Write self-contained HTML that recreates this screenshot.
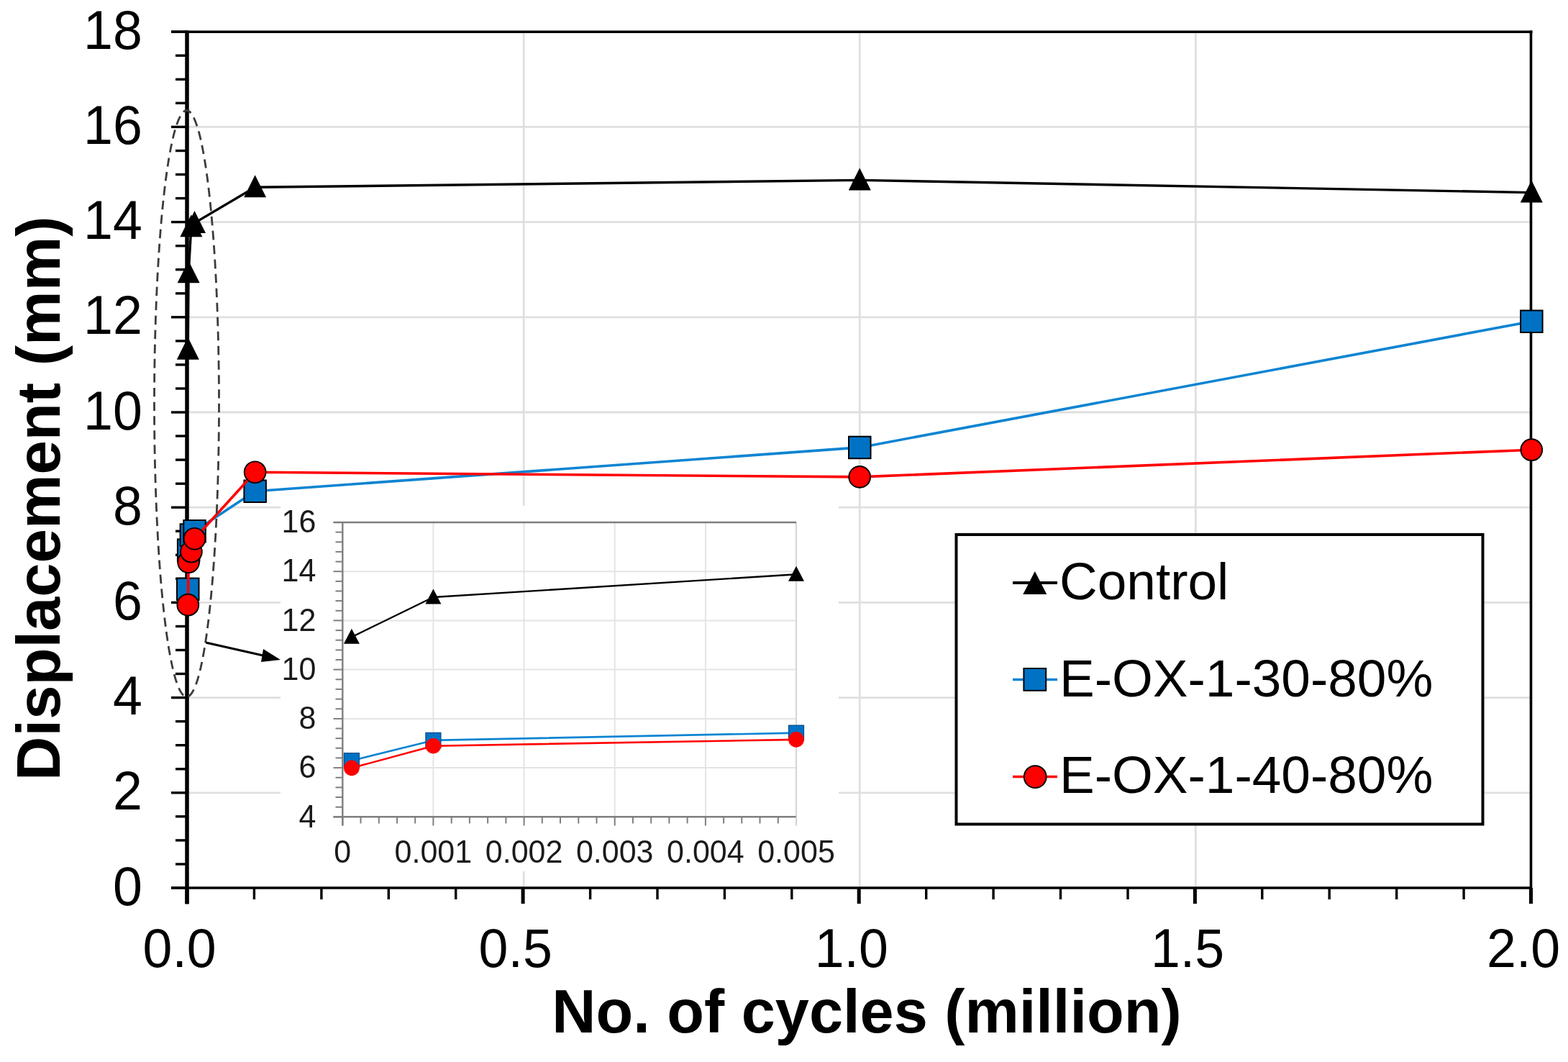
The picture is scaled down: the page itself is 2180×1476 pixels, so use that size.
<!DOCTYPE html>
<html><head><meta charset="utf-8"><title>Displacement vs cycles</title>
<style>html,body{margin:0;padding:0;background:#fff;}body{width:2180px;height:1476px;overflow:hidden;}svg{display:block;}</style>
</head><body>
<svg width="2180" height="1476" viewBox="0 0 2180 1476">
<rect width="2180" height="1476" fill="#ffffff"/>
<line x1="260.0" y1="1101.8" x2="2128.5" y2="1101.8" stroke="#dfdfdf" stroke-width="2.8"/>
<line x1="260.0" y1="969.6" x2="2128.5" y2="969.6" stroke="#dfdfdf" stroke-width="2.8"/>
<line x1="260.0" y1="837.4" x2="2128.5" y2="837.4" stroke="#dfdfdf" stroke-width="2.8"/>
<line x1="260.0" y1="705.2" x2="2128.5" y2="705.2" stroke="#dfdfdf" stroke-width="2.8"/>
<line x1="260.0" y1="573.0" x2="2128.5" y2="573.0" stroke="#dfdfdf" stroke-width="2.8"/>
<line x1="260.0" y1="440.8" x2="2128.5" y2="440.8" stroke="#dfdfdf" stroke-width="2.8"/>
<line x1="260.0" y1="308.6" x2="2128.5" y2="308.6" stroke="#dfdfdf" stroke-width="2.8"/>
<line x1="260.0" y1="176.4" x2="2128.5" y2="176.4" stroke="#dfdfdf" stroke-width="2.8"/>
<line x1="728.2" y1="44.2" x2="728.2" y2="1234.0" stroke="#dfdfdf" stroke-width="2.8"/>
<line x1="1195.2" y1="44.2" x2="1195.2" y2="1234.0" stroke="#dfdfdf" stroke-width="2.8"/>
<line x1="1662.3" y1="44.2" x2="1662.3" y2="1234.0" stroke="#dfdfdf" stroke-width="2.8"/>
<line x1="238" y1="44.2" x2="2130.5" y2="44.2" stroke="#000000" stroke-width="3.6"/>
<line x1="2128.5" y1="42.4" x2="2128.5" y2="1256" stroke="#000000" stroke-width="3.6"/>
<line x1="238" y1="1234.0" x2="2128.5" y2="1234.0" stroke="#000000" stroke-width="3.6"/>
<line x1="260.0" y1="42.4" x2="260.0" y2="1256.5" stroke="#000000" stroke-width="5.5"/>
<line x1="238" y1="1234.0" x2="260.0" y2="1234.0" stroke="#000000" stroke-width="3.4"/>
<line x1="244" y1="1201.0" x2="260.0" y2="1201.0" stroke="#000000" stroke-width="3.4"/>
<line x1="244" y1="1167.9" x2="260.0" y2="1167.9" stroke="#000000" stroke-width="3.4"/>
<line x1="244" y1="1134.8" x2="260.0" y2="1134.8" stroke="#000000" stroke-width="3.4"/>
<line x1="238" y1="1101.8" x2="260.0" y2="1101.8" stroke="#000000" stroke-width="3.4"/>
<line x1="244" y1="1068.8" x2="260.0" y2="1068.8" stroke="#000000" stroke-width="3.4"/>
<line x1="244" y1="1035.7" x2="260.0" y2="1035.7" stroke="#000000" stroke-width="3.4"/>
<line x1="244" y1="1002.6" x2="260.0" y2="1002.6" stroke="#000000" stroke-width="3.4"/>
<line x1="238" y1="969.6" x2="260.0" y2="969.6" stroke="#000000" stroke-width="3.4"/>
<line x1="244" y1="936.5" x2="260.0" y2="936.5" stroke="#000000" stroke-width="3.4"/>
<line x1="244" y1="903.5" x2="260.0" y2="903.5" stroke="#000000" stroke-width="3.4"/>
<line x1="244" y1="870.5" x2="260.0" y2="870.5" stroke="#000000" stroke-width="3.4"/>
<line x1="238" y1="837.4" x2="260.0" y2="837.4" stroke="#000000" stroke-width="3.4"/>
<line x1="244" y1="804.4" x2="260.0" y2="804.4" stroke="#000000" stroke-width="3.4"/>
<line x1="244" y1="771.3" x2="260.0" y2="771.3" stroke="#000000" stroke-width="3.4"/>
<line x1="244" y1="738.2" x2="260.0" y2="738.2" stroke="#000000" stroke-width="3.4"/>
<line x1="238" y1="705.2" x2="260.0" y2="705.2" stroke="#000000" stroke-width="3.4"/>
<line x1="244" y1="672.2" x2="260.0" y2="672.2" stroke="#000000" stroke-width="3.4"/>
<line x1="244" y1="639.1" x2="260.0" y2="639.1" stroke="#000000" stroke-width="3.4"/>
<line x1="244" y1="606.0" x2="260.0" y2="606.0" stroke="#000000" stroke-width="3.4"/>
<line x1="238" y1="573.0" x2="260.0" y2="573.0" stroke="#000000" stroke-width="3.4"/>
<line x1="244" y1="540.0" x2="260.0" y2="540.0" stroke="#000000" stroke-width="3.4"/>
<line x1="244" y1="506.9" x2="260.0" y2="506.9" stroke="#000000" stroke-width="3.4"/>
<line x1="244" y1="473.9" x2="260.0" y2="473.9" stroke="#000000" stroke-width="3.4"/>
<line x1="238" y1="440.8" x2="260.0" y2="440.8" stroke="#000000" stroke-width="3.4"/>
<line x1="244" y1="407.8" x2="260.0" y2="407.8" stroke="#000000" stroke-width="3.4"/>
<line x1="244" y1="374.7" x2="260.0" y2="374.7" stroke="#000000" stroke-width="3.4"/>
<line x1="244" y1="341.7" x2="260.0" y2="341.7" stroke="#000000" stroke-width="3.4"/>
<line x1="238" y1="308.6" x2="260.0" y2="308.6" stroke="#000000" stroke-width="3.4"/>
<line x1="244" y1="275.6" x2="260.0" y2="275.6" stroke="#000000" stroke-width="3.4"/>
<line x1="244" y1="242.5" x2="260.0" y2="242.5" stroke="#000000" stroke-width="3.4"/>
<line x1="244" y1="209.5" x2="260.0" y2="209.5" stroke="#000000" stroke-width="3.4"/>
<line x1="238" y1="176.4" x2="260.0" y2="176.4" stroke="#000000" stroke-width="3.4"/>
<line x1="244" y1="143.3" x2="260.0" y2="143.3" stroke="#000000" stroke-width="3.4"/>
<line x1="244" y1="110.3" x2="260.0" y2="110.3" stroke="#000000" stroke-width="3.4"/>
<line x1="244" y1="77.2" x2="260.0" y2="77.2" stroke="#000000" stroke-width="3.4"/>
<line x1="238" y1="44.2" x2="260.0" y2="44.2" stroke="#000000" stroke-width="3.4"/>
<line x1="260.0" y1="1234.0" x2="260.0" y2="1256" stroke="#000000" stroke-width="5"/>
<line x1="353.4" y1="1234.0" x2="353.4" y2="1250" stroke="#000000" stroke-width="3.4"/>
<line x1="446.9" y1="1234.0" x2="446.9" y2="1250" stroke="#000000" stroke-width="3.4"/>
<line x1="540.3" y1="1234.0" x2="540.3" y2="1250" stroke="#000000" stroke-width="3.4"/>
<line x1="633.7" y1="1234.0" x2="633.7" y2="1250" stroke="#000000" stroke-width="3.4"/>
<line x1="727.1" y1="1234.0" x2="727.1" y2="1256" stroke="#000000" stroke-width="5"/>
<line x1="820.6" y1="1234.0" x2="820.6" y2="1250" stroke="#000000" stroke-width="3.4"/>
<line x1="914.0" y1="1234.0" x2="914.0" y2="1250" stroke="#000000" stroke-width="3.4"/>
<line x1="1007.4" y1="1234.0" x2="1007.4" y2="1250" stroke="#000000" stroke-width="3.4"/>
<line x1="1100.8" y1="1234.0" x2="1100.8" y2="1250" stroke="#000000" stroke-width="3.4"/>
<line x1="1194.2" y1="1234.0" x2="1194.2" y2="1256" stroke="#000000" stroke-width="5"/>
<line x1="1287.7" y1="1234.0" x2="1287.7" y2="1250" stroke="#000000" stroke-width="3.4"/>
<line x1="1381.1" y1="1234.0" x2="1381.1" y2="1250" stroke="#000000" stroke-width="3.4"/>
<line x1="1474.5" y1="1234.0" x2="1474.5" y2="1250" stroke="#000000" stroke-width="3.4"/>
<line x1="1568.0" y1="1234.0" x2="1568.0" y2="1250" stroke="#000000" stroke-width="3.4"/>
<line x1="1661.4" y1="1234.0" x2="1661.4" y2="1256" stroke="#000000" stroke-width="5"/>
<line x1="1754.8" y1="1234.0" x2="1754.8" y2="1250" stroke="#000000" stroke-width="3.4"/>
<line x1="1848.2" y1="1234.0" x2="1848.2" y2="1250" stroke="#000000" stroke-width="3.4"/>
<line x1="1941.7" y1="1234.0" x2="1941.7" y2="1250" stroke="#000000" stroke-width="3.4"/>
<line x1="2035.1" y1="1234.0" x2="2035.1" y2="1250" stroke="#000000" stroke-width="3.4"/>
<line x1="2128.5" y1="1234.0" x2="2128.5" y2="1256" stroke="#000000" stroke-width="5"/>
<text transform="translate(197.8,1257.6) scale(1,1.025)" font-family="'Liberation Sans', Arial, Helvetica, sans-serif" font-size="73.5" fill="#000" text-anchor="end">0</text>
<text transform="translate(197.8,1125.4) scale(1,1.025)" font-family="'Liberation Sans', Arial, Helvetica, sans-serif" font-size="73.5" fill="#000" text-anchor="end">2</text>
<text transform="translate(197.8,993.2) scale(1,1.025)" font-family="'Liberation Sans', Arial, Helvetica, sans-serif" font-size="73.5" fill="#000" text-anchor="end">4</text>
<text transform="translate(197.8,861.0) scale(1,1.025)" font-family="'Liberation Sans', Arial, Helvetica, sans-serif" font-size="73.5" fill="#000" text-anchor="end">6</text>
<text transform="translate(197.8,728.8) scale(1,1.025)" font-family="'Liberation Sans', Arial, Helvetica, sans-serif" font-size="73.5" fill="#000" text-anchor="end">8</text>
<text transform="translate(197.8,596.6) scale(1,1.025)" font-family="'Liberation Sans', Arial, Helvetica, sans-serif" font-size="73.5" fill="#000" text-anchor="end">10</text>
<text transform="translate(197.8,464.4) scale(1,1.025)" font-family="'Liberation Sans', Arial, Helvetica, sans-serif" font-size="73.5" fill="#000" text-anchor="end">12</text>
<text transform="translate(197.8,332.2) scale(1,1.025)" font-family="'Liberation Sans', Arial, Helvetica, sans-serif" font-size="73.5" fill="#000" text-anchor="end">14</text>
<text transform="translate(197.8,200.0) scale(1,1.025)" font-family="'Liberation Sans', Arial, Helvetica, sans-serif" font-size="73.5" fill="#000" text-anchor="end">16</text>
<text transform="translate(197.8,67.8) scale(1,1.025)" font-family="'Liberation Sans', Arial, Helvetica, sans-serif" font-size="73.5" fill="#000" text-anchor="end">18</text>
<text transform="translate(249.6,1343.6) scale(1,1.025)" font-family="'Liberation Sans', Arial, Helvetica, sans-serif" font-size="73.5" fill="#000" text-anchor="middle">0.0</text>
<text transform="translate(716.7,1343.6) scale(1,1.025)" font-family="'Liberation Sans', Arial, Helvetica, sans-serif" font-size="73.5" fill="#000" text-anchor="middle">0.5</text>
<text transform="translate(1183.8,1343.6) scale(1,1.025)" font-family="'Liberation Sans', Arial, Helvetica, sans-serif" font-size="73.5" fill="#000" text-anchor="middle">1.0</text>
<text transform="translate(1651.0,1343.6) scale(1,1.025)" font-family="'Liberation Sans', Arial, Helvetica, sans-serif" font-size="73.5" fill="#000" text-anchor="middle">1.5</text>
<text transform="translate(2118.1,1343.6) scale(1,1.025)" font-family="'Liberation Sans', Arial, Helvetica, sans-serif" font-size="73.5" fill="#000" text-anchor="middle">2.0</text>
<text transform="translate(767.3,1434.6)" font-family="'Liberation Sans', Arial, Helvetica, sans-serif" font-size="85.5" font-weight="bold" fill="#000" textLength="875.3" lengthAdjust="spacingAndGlyphs">No. of cycles (million)</text>
<text transform="translate(83.4,1084.9) rotate(-90)" font-family="'Liberation Sans', Arial, Helvetica, sans-serif" font-size="84.5" font-weight="bold" fill="#000" textLength="784.5" lengthAdjust="spacingAndGlyphs">Displacement (mm)</text>
<polyline points="261.3,485.7 262.1,379.3 265.9,315.2 270.5,309.9 354.6,260.3 1195.2,250.4 2129.3,267.6" fill="none" stroke="#000" stroke-width="3.4" stroke-linejoin="round"/>
<polygon points="261.3,468.7 276.8,499.7 245.8,499.7" fill="#000"/>
<polygon points="262.1,362.3 277.6,393.3 246.6,393.3" fill="#000"/>
<polygon points="265.9,298.2 281.4,329.2 250.4,329.2" fill="#000"/>
<polygon points="270.5,292.9 286.0,323.9 255.0,323.9" fill="#000"/>
<polygon points="354.6,243.3 370.1,274.3 339.1,274.3" fill="#000"/>
<polygon points="1195.2,233.4 1210.8,264.4 1179.8,264.4" fill="#000"/>
<polygon points="2129.3,250.6 2144.8,281.6 2113.8,281.6" fill="#000"/>
<polyline points="261.3,818.9 262.1,764.7 265.9,743.5 270.5,738.2 354.6,682.7 1195.2,621.9 2129.3,446.7" fill="none" stroke="#0b84d2" stroke-width="3.6" stroke-linejoin="round"/>
<rect x="246.0" y="803.6" width="30.5" height="30.5" fill="#0072c4" stroke="#000" stroke-width="2.0"/>
<rect x="246.9" y="749.4" width="30.5" height="30.5" fill="#0072c4" stroke="#000" stroke-width="2.0"/>
<rect x="250.6" y="728.3" width="30.5" height="30.5" fill="#0072c4" stroke="#000" stroke-width="2.0"/>
<rect x="255.3" y="723.0" width="30.5" height="30.5" fill="#0072c4" stroke="#000" stroke-width="2.0"/>
<rect x="339.4" y="667.5" width="30.5" height="30.5" fill="#0072c4" stroke="#000" stroke-width="2.0"/>
<rect x="1180.0" y="606.7" width="30.5" height="30.5" fill="#0072c4" stroke="#000" stroke-width="2.0"/>
<rect x="2114.1" y="431.5" width="30.5" height="30.5" fill="#0072c4" stroke="#000" stroke-width="2.0"/>
<polyline points="261.3,840.7 262.1,781.2 265.9,766.7 270.5,748.8 354.6,656.3 1195.2,662.9 2129.3,625.2" fill="none" stroke="#ff0000" stroke-width="3.6" stroke-linejoin="round"/>
<circle cx="261.3" cy="840.7" r="14.9" fill="#ff0000" stroke="#000" stroke-width="1.9"/>
<circle cx="262.1" cy="781.2" r="14.9" fill="#ff0000" stroke="#000" stroke-width="1.9"/>
<circle cx="265.9" cy="766.7" r="14.9" fill="#ff0000" stroke="#000" stroke-width="1.9"/>
<circle cx="270.5" cy="748.8" r="14.9" fill="#ff0000" stroke="#000" stroke-width="1.9"/>
<circle cx="354.6" cy="656.3" r="14.9" fill="#ff0000" stroke="#000" stroke-width="1.9"/>
<circle cx="1195.2" cy="662.9" r="14.9" fill="#ff0000" stroke="#000" stroke-width="1.9"/>
<circle cx="2129.3" cy="625.2" r="14.9" fill="#ff0000" stroke="#000" stroke-width="1.9"/>
<ellipse cx="259.5" cy="561" rx="45" ry="407.5" fill="none" stroke="#3c3c3c" stroke-width="2.8" stroke-dasharray="12.5,7.5"/>
<line x1="286" y1="893" x2="370" y2="912" stroke="#000" stroke-width="3.2"/>
<polygon points="390,917 366,902 363,920" fill="#000"/>
<rect x="390" y="703" width="776" height="508" fill="#fff"/>
<line x1="476.3" y1="1067.1" x2="1107.0" y2="1067.1" stroke="#e4e4e4" stroke-width="2"/>
<line x1="476.3" y1="998.9" x2="1107.0" y2="998.9" stroke="#e4e4e4" stroke-width="2"/>
<line x1="476.3" y1="930.6" x2="1107.0" y2="930.6" stroke="#e4e4e4" stroke-width="2"/>
<line x1="476.3" y1="862.4" x2="1107.0" y2="862.4" stroke="#e4e4e4" stroke-width="2"/>
<line x1="476.3" y1="794.2" x2="1107.0" y2="794.2" stroke="#e4e4e4" stroke-width="2"/>
<line x1="602.4" y1="726.0" x2="602.4" y2="1135.3" stroke="#e4e4e4" stroke-width="2"/>
<line x1="728.6" y1="726.0" x2="728.6" y2="1135.3" stroke="#e4e4e4" stroke-width="2"/>
<line x1="854.7" y1="726.0" x2="854.7" y2="1135.3" stroke="#e4e4e4" stroke-width="2"/>
<line x1="980.9" y1="726.0" x2="980.9" y2="1135.3" stroke="#e4e4e4" stroke-width="2"/>
<line x1="1107.0" y1="726.0" x2="1107.0" y2="1135.3" stroke="#d4d4d4" stroke-width="2"/>
<line x1="463.5" y1="726.0" x2="1107.0" y2="726.0" stroke="#7f7f7f" stroke-width="2.4"/>
<line x1="476.3" y1="726.0" x2="476.3" y2="1147.5" stroke="#7f7f7f" stroke-width="2.4"/>
<line x1="463.5" y1="1135.3" x2="1107.0" y2="1135.3" stroke="#7f7f7f" stroke-width="2.4"/>
<line x1="463.5" y1="1135.3" x2="476.3" y2="1135.3" stroke="#7f7f7f" stroke-width="2"/>
<line x1="466.5" y1="1121.7" x2="476.3" y2="1121.7" stroke="#7f7f7f" stroke-width="2"/>
<line x1="466.5" y1="1108.0" x2="476.3" y2="1108.0" stroke="#7f7f7f" stroke-width="2"/>
<line x1="466.5" y1="1094.4" x2="476.3" y2="1094.4" stroke="#7f7f7f" stroke-width="2"/>
<line x1="466.5" y1="1080.7" x2="476.3" y2="1080.7" stroke="#7f7f7f" stroke-width="2"/>
<line x1="463.5" y1="1067.1" x2="476.3" y2="1067.1" stroke="#7f7f7f" stroke-width="2"/>
<line x1="466.5" y1="1053.4" x2="476.3" y2="1053.4" stroke="#7f7f7f" stroke-width="2"/>
<line x1="466.5" y1="1039.8" x2="476.3" y2="1039.8" stroke="#7f7f7f" stroke-width="2"/>
<line x1="466.5" y1="1026.2" x2="476.3" y2="1026.2" stroke="#7f7f7f" stroke-width="2"/>
<line x1="466.5" y1="1012.5" x2="476.3" y2="1012.5" stroke="#7f7f7f" stroke-width="2"/>
<line x1="463.5" y1="998.9" x2="476.3" y2="998.9" stroke="#7f7f7f" stroke-width="2"/>
<line x1="466.5" y1="985.2" x2="476.3" y2="985.2" stroke="#7f7f7f" stroke-width="2"/>
<line x1="466.5" y1="971.6" x2="476.3" y2="971.6" stroke="#7f7f7f" stroke-width="2"/>
<line x1="466.5" y1="957.9" x2="476.3" y2="957.9" stroke="#7f7f7f" stroke-width="2"/>
<line x1="466.5" y1="944.3" x2="476.3" y2="944.3" stroke="#7f7f7f" stroke-width="2"/>
<line x1="463.5" y1="930.6" x2="476.3" y2="930.6" stroke="#7f7f7f" stroke-width="2"/>
<line x1="466.5" y1="917.0" x2="476.3" y2="917.0" stroke="#7f7f7f" stroke-width="2"/>
<line x1="466.5" y1="903.4" x2="476.3" y2="903.4" stroke="#7f7f7f" stroke-width="2"/>
<line x1="466.5" y1="889.7" x2="476.3" y2="889.7" stroke="#7f7f7f" stroke-width="2"/>
<line x1="466.5" y1="876.1" x2="476.3" y2="876.1" stroke="#7f7f7f" stroke-width="2"/>
<line x1="463.5" y1="862.4" x2="476.3" y2="862.4" stroke="#7f7f7f" stroke-width="2"/>
<line x1="466.5" y1="848.8" x2="476.3" y2="848.8" stroke="#7f7f7f" stroke-width="2"/>
<line x1="466.5" y1="835.1" x2="476.3" y2="835.1" stroke="#7f7f7f" stroke-width="2"/>
<line x1="466.5" y1="821.5" x2="476.3" y2="821.5" stroke="#7f7f7f" stroke-width="2"/>
<line x1="466.5" y1="807.9" x2="476.3" y2="807.9" stroke="#7f7f7f" stroke-width="2"/>
<line x1="463.5" y1="794.2" x2="476.3" y2="794.2" stroke="#7f7f7f" stroke-width="2"/>
<line x1="466.5" y1="780.6" x2="476.3" y2="780.6" stroke="#7f7f7f" stroke-width="2"/>
<line x1="466.5" y1="766.9" x2="476.3" y2="766.9" stroke="#7f7f7f" stroke-width="2"/>
<line x1="466.5" y1="753.3" x2="476.3" y2="753.3" stroke="#7f7f7f" stroke-width="2"/>
<line x1="466.5" y1="739.6" x2="476.3" y2="739.6" stroke="#7f7f7f" stroke-width="2"/>
<line x1="463.5" y1="726.0" x2="476.3" y2="726.0" stroke="#7f7f7f" stroke-width="2"/>
<line x1="476.3" y1="1135.3" x2="476.3" y2="1147.5" stroke="#7f7f7f" stroke-width="2"/>
<line x1="501.5" y1="1135.3" x2="501.5" y2="1144.5" stroke="#7f7f7f" stroke-width="2"/>
<line x1="526.8" y1="1135.3" x2="526.8" y2="1144.5" stroke="#7f7f7f" stroke-width="2"/>
<line x1="552.0" y1="1135.3" x2="552.0" y2="1144.5" stroke="#7f7f7f" stroke-width="2"/>
<line x1="577.2" y1="1135.3" x2="577.2" y2="1144.5" stroke="#7f7f7f" stroke-width="2"/>
<line x1="602.4" y1="1135.3" x2="602.4" y2="1147.5" stroke="#7f7f7f" stroke-width="2"/>
<line x1="627.7" y1="1135.3" x2="627.7" y2="1144.5" stroke="#7f7f7f" stroke-width="2"/>
<line x1="652.9" y1="1135.3" x2="652.9" y2="1144.5" stroke="#7f7f7f" stroke-width="2"/>
<line x1="678.1" y1="1135.3" x2="678.1" y2="1144.5" stroke="#7f7f7f" stroke-width="2"/>
<line x1="703.4" y1="1135.3" x2="703.4" y2="1144.5" stroke="#7f7f7f" stroke-width="2"/>
<line x1="728.6" y1="1135.3" x2="728.6" y2="1147.5" stroke="#7f7f7f" stroke-width="2"/>
<line x1="753.8" y1="1135.3" x2="753.8" y2="1144.5" stroke="#7f7f7f" stroke-width="2"/>
<line x1="779.0" y1="1135.3" x2="779.0" y2="1144.5" stroke="#7f7f7f" stroke-width="2"/>
<line x1="804.3" y1="1135.3" x2="804.3" y2="1144.5" stroke="#7f7f7f" stroke-width="2"/>
<line x1="829.5" y1="1135.3" x2="829.5" y2="1144.5" stroke="#7f7f7f" stroke-width="2"/>
<line x1="854.7" y1="1135.3" x2="854.7" y2="1147.5" stroke="#7f7f7f" stroke-width="2"/>
<line x1="879.9" y1="1135.3" x2="879.9" y2="1144.5" stroke="#7f7f7f" stroke-width="2"/>
<line x1="905.2" y1="1135.3" x2="905.2" y2="1144.5" stroke="#7f7f7f" stroke-width="2"/>
<line x1="930.4" y1="1135.3" x2="930.4" y2="1144.5" stroke="#7f7f7f" stroke-width="2"/>
<line x1="955.6" y1="1135.3" x2="955.6" y2="1144.5" stroke="#7f7f7f" stroke-width="2"/>
<line x1="980.9" y1="1135.3" x2="980.9" y2="1147.5" stroke="#7f7f7f" stroke-width="2"/>
<line x1="1006.1" y1="1135.3" x2="1006.1" y2="1144.5" stroke="#7f7f7f" stroke-width="2"/>
<line x1="1031.3" y1="1135.3" x2="1031.3" y2="1144.5" stroke="#7f7f7f" stroke-width="2"/>
<line x1="1056.5" y1="1135.3" x2="1056.5" y2="1144.5" stroke="#7f7f7f" stroke-width="2"/>
<line x1="1081.8" y1="1135.3" x2="1081.8" y2="1144.5" stroke="#7f7f7f" stroke-width="2"/>
<line x1="1107.0" y1="1135.3" x2="1107.0" y2="1147.5" stroke="#d0d0d0" stroke-width="2"/>
<text transform="translate(439.3,1149.5) scale(1,1.045)" font-family="'Liberation Sans', Arial, Helvetica, sans-serif" font-size="43" fill="#1a1a1a" text-anchor="end">4</text>
<text transform="translate(439.3,1081.3) scale(1,1.045)" font-family="'Liberation Sans', Arial, Helvetica, sans-serif" font-size="43" fill="#1a1a1a" text-anchor="end">6</text>
<text transform="translate(439.3,1013.1) scale(1,1.045)" font-family="'Liberation Sans', Arial, Helvetica, sans-serif" font-size="43" fill="#1a1a1a" text-anchor="end">8</text>
<text transform="translate(439.3,944.9) scale(1,1.045)" font-family="'Liberation Sans', Arial, Helvetica, sans-serif" font-size="43" fill="#1a1a1a" text-anchor="end">10</text>
<text transform="translate(439.3,876.6) scale(1,1.045)" font-family="'Liberation Sans', Arial, Helvetica, sans-serif" font-size="43" fill="#1a1a1a" text-anchor="end">12</text>
<text transform="translate(439.3,808.4) scale(1,1.045)" font-family="'Liberation Sans', Arial, Helvetica, sans-serif" font-size="43" fill="#1a1a1a" text-anchor="end">14</text>
<text transform="translate(439.3,740.2) scale(1,1.045)" font-family="'Liberation Sans', Arial, Helvetica, sans-serif" font-size="43" fill="#1a1a1a" text-anchor="end">16</text>
<text transform="translate(476.3,1199.2) scale(1,1.045)" font-family="'Liberation Sans', Arial, Helvetica, sans-serif" font-size="43" fill="#1a1a1a" text-anchor="middle">0</text>
<text transform="translate(602.4,1199.2) scale(1,1.045)" font-family="'Liberation Sans', Arial, Helvetica, sans-serif" font-size="43" fill="#1a1a1a" text-anchor="middle">0.001</text>
<text transform="translate(728.6,1199.2) scale(1,1.045)" font-family="'Liberation Sans', Arial, Helvetica, sans-serif" font-size="43" fill="#1a1a1a" text-anchor="middle">0.002</text>
<text transform="translate(854.7,1199.2) scale(1,1.045)" font-family="'Liberation Sans', Arial, Helvetica, sans-serif" font-size="43" fill="#1a1a1a" text-anchor="middle">0.003</text>
<text transform="translate(980.9,1199.2) scale(1,1.045)" font-family="'Liberation Sans', Arial, Helvetica, sans-serif" font-size="43" fill="#1a1a1a" text-anchor="middle">0.004</text>
<text transform="translate(1107.0,1199.2) scale(1,1.045)" font-family="'Liberation Sans', Arial, Helvetica, sans-serif" font-size="43" fill="#1a1a1a" text-anchor="middle">0.005</text>
<polyline points="488.9,885.3 602.4,830.0 1107.0,798.3" fill="none" stroke="#000" stroke-width="2.4" stroke-linejoin="round"/>
<polygon points="488.9,873.8 499.9,894.8 477.9,894.8" fill="#000"/>
<polygon points="602.4,818.5 613.4,839.5 591.4,839.5" fill="#000"/>
<polygon points="1107.0,786.8 1118.0,807.8 1096.0,807.8" fill="#000"/>
<polyline points="488.9,1057.2 602.4,1028.9 1107.0,1018.6" fill="none" stroke="#0b84d2" stroke-width="2.6" stroke-linejoin="round"/>
<rect x="478.4" y="1046.7" width="21" height="21" fill="#0072c4" stroke="#004a8a" stroke-width="1.2"/>
<rect x="591.9" y="1018.4" width="21" height="21" fill="#0072c4" stroke="#004a8a" stroke-width="1.2"/>
<rect x="1096.5" y="1008.1" width="21" height="21" fill="#0072c4" stroke="#004a8a" stroke-width="1.2"/>
<polyline points="488.9,1067.4 602.4,1036.7 1107.0,1027.9" fill="none" stroke="#ff0000" stroke-width="2.6" stroke-linejoin="round"/>
<circle cx="488.9" cy="1067.4" r="10.8" fill="#ff0000"/>
<circle cx="602.4" cy="1036.7" r="10.8" fill="#ff0000"/>
<circle cx="1107.0" cy="1027.9" r="10.8" fill="#ff0000"/>
<rect x="1329.5" y="743" width="732" height="402.5" fill="#fff" stroke="#000" stroke-width="4"/>
<text transform="translate(1473.0,833.2)" font-family="'Liberation Sans', Arial, Helvetica, sans-serif" font-size="73" fill="#000">Control</text>
<text transform="translate(1473.0,967.6)" font-family="'Liberation Sans', Arial, Helvetica, sans-serif" font-size="73" fill="#000">E-OX-1-30-80%</text>
<text transform="translate(1473.0,1102.1)" font-family="'Liberation Sans', Arial, Helvetica, sans-serif" font-size="73" fill="#000">E-OX-1-40-80%</text>
<line x1="1408" y1="810" x2="1470" y2="810" stroke="#000" stroke-width="4"/>
<polygon points="1438.8,794.0 1455.3,826.0 1422.3,826.0" fill="#000"/>
<line x1="1408" y1="944.5" x2="1470" y2="944.5" stroke="#0b84d2" stroke-width="3.6"/>
<rect x="1423.4" y="929.0" width="30.8" height="30.8" fill="#0072c4" stroke="#000" stroke-width="2.0"/>
<line x1="1408" y1="1079.5" x2="1470" y2="1079.5" stroke="#ff0000" stroke-width="3.6"/>
<circle cx="1439.2" cy="1079.7" r="15.4" fill="#ff0000" stroke="#000" stroke-width="2.0"/>
</svg>
</body></html>
